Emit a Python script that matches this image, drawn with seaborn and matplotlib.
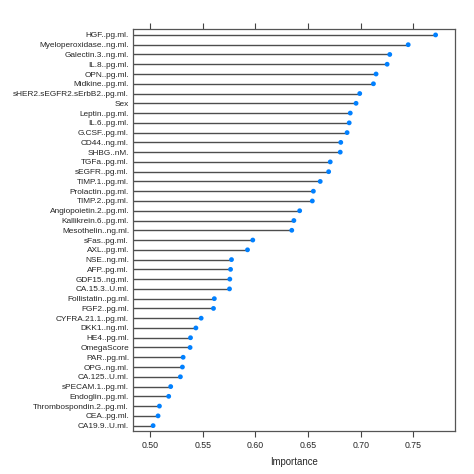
import pandas as pd
import matplotlib
matplotlib.use("Agg")
import matplotlib.pyplot as plt
import seaborn as sns

# variable importance (top to bottom)
features = [
    "HGF..pg.ml.", "Myeloperoxidase..ng.ml.", "Galectin.3..ng.ml.", "IL.8..pg.ml.",
    "OPN..pg.ml.", "Midkine..pg.ml.", "sHER2.sEGFR2.sErbB2..pg.ml.", "Sex",
    "Leptin..pg.ml.", "IL.6..pg.ml.", "G.CSF..pg.ml.", "CD44..ng.ml.",
    "SHBG..nM.", "TGFa..pg.ml.", "sEGFR..pg.ml.", "TIMP.1..pg.ml.",
    "Prolactin..pg.ml.", "TIMP.2..pg.ml.", "Angiopoietin.2..pg.ml.", "Kallikrein.6..pg.ml.",
    "Mesothelin..ng.ml.", "sFas..pg.ml.", "AXL..pg.ml.", "NSE..ng.ml.",
    "AFP..pg.ml.", "GDF15..ng.ml.", "CA.15.3..U.ml.", "Follistatin..pg.ml.",
    "FGF2..pg.ml.", "CYFRA.21.1..pg.ml.", "DKK1..ng.ml.", "HE4..pg.ml.",
    "OmegaScore", "PAR..pg.ml.", "OPG..ng.ml.", "CA.125..U.ml.",
    "sPECAM.1..pg.ml.", "Endoglin..pg.ml.", "Thrombospondin.2..pg.ml.", "CEA..pg.ml.",
    "CA19.9..U.ml.",
]
importance = [
    0.771, 0.745, 0.7275, 0.725,
    0.7145, 0.712, 0.699, 0.6955,
    0.690, 0.689, 0.687, 0.681,
    0.6805, 0.671, 0.6695, 0.6615,
    0.655, 0.654, 0.642, 0.6365,
    0.6345, 0.5975, 0.5925, 0.5773,
    0.5764, 0.5757, 0.5754, 0.561,
    0.5602, 0.5485, 0.5435, 0.5384,
    0.538, 0.5314, 0.5307, 0.5288,
    0.5196, 0.5177, 0.5089, 0.5076,
    0.5029,
]
x_ticks = [0.50, 0.55, 0.60, 0.65, 0.70, 0.75]

df = pd.DataFrame({"feature": features, "importance": importance})
df["pos"] = range(len(df))

sns.set_style("white")
plt.rcParams["font.family"] = ["Liberation Sans", "DejaVu Sans"]

fig = plt.figure(figsize=(4.74, 4.74), dpi=100)
ax = fig.add_axes([0.281, 0.0907, 0.678, 0.849])

xmin, xmax = 0.484, 0.789
ax.hlines(df["pos"], xmin, df["importance"], color="#4d4d4d", linewidth=1.0, zorder=1)
sns.scatterplot(data=df, x="importance", y="pos", color="#0080ff", s=12,
                edgecolor="none", ax=ax, zorder=2)

ax.set_xlim(xmin, xmax)
ax.set_ylim(len(df) - 1 + 0.55, -0.65)
ax.set_yticks(df["pos"])
ax.set_yticklabels(df["feature"], fontsize=5.95)
ax.set_xticks(x_ticks)
ax.set_xticklabels([f"{t:.2f}" for t in x_ticks], fontsize=6.3)
ax.tick_params(axis="y", length=0, pad=3)
ax.tick_params(axis="x", direction="out", length=4, width=0.8, color="#444444",
               top=True, bottom=True, labeltop=False, pad=3)
ax.set_xlabel("Importance", fontsize=6.9, labelpad=5)
ax.set_ylabel("")
for sp in ax.spines.values():
    sp.set_color("#555555")
    sp.set_linewidth(0.9)

fig.savefig("out.png", dpi=100)
